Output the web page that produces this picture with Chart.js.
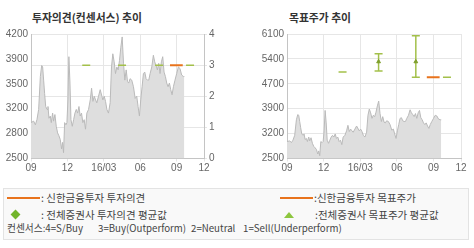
<!DOCTYPE html>
<html>
<head>
<meta charset="utf-8">
<script src="https://cdn.jsdelivr.net/npm/chart.js@4.4.1/dist/chart.umd.min.js"></script>
<style>
body{margin:0;background:#fff;width:474px;height:248px;overflow:hidden;position:relative;font-family:"Noto Sans CJK KR","Noto Sans",sans-serif;}
.title{position:absolute;top:10px;font-size:10.8px;font-weight:bold;color:#333;line-height:14px;white-space:nowrap;}
.box{position:absolute;}
#legend{position:absolute;left:3px;top:188px;width:464px;height:50px;border:1px solid #e3e3e3;background:#f9f9f9;}
.lg{position:absolute;font-size:10.5px;color:#444;line-height:12px;white-space:nowrap;}
.sm{position:absolute;font-size:9.7px;color:#444;line-height:12px;white-space:nowrap;}
.oline{position:absolute;height:2px;background:#e8731c;}
.diamond{position:absolute;width:7px;height:7px;background:#72b52b;transform:rotate(45deg);}
.tri{position:absolute;width:0;height:0;border-left:5px solid transparent;border-right:5px solid transparent;border-bottom:6px solid #8dc63f;}
</style>
</head>
<body>

<div class="title" style="left:32px">투자의견(컨센서스) 추이</div>
<div class="title" style="left:289px">목표주가 추이</div>

<div class="box" style="left:0;top:25px"><canvas id="opinion" width="237" height="150"></canvas></div>
<div class="box" style="left:237px;top:25px"><canvas id="target" width="237" height="150"></canvas></div>

<div id="legend"></div>
<div class="oline" style="left:7px;top:197px;width:33px"></div>
<div class="lg" style="left:41px;top:192px">: 신한금융투자 투자의견</div>
<div class="diamond" style="left:12px;top:211px"></div>
<div class="lg" style="left:41px;top:209px">: 전체증권사 투자의견 평균값</div>
<div class="sm" style="left:7px;top:222px">컨센서스:4=S/Buy</div>
<div class="sm" style="left:98px;top:222px">3=Buy(Outperform)</div>
<div class="sm" style="left:191px;top:222px">2=Neutral</div>
<div class="sm" style="left:243px;top:222px">1=Sell(Underperform)</div>
<div class="oline" style="left:280px;top:197px;width:33px"></div>
<div class="lg" style="left:314px;top:192px">:신한금융투자 목표주가</div>
<div class="tri" style="left:284px;top:212px"></div>
<div class="lg" style="left:315px;top:209px">:전체증권사 목표주가 평균값</div>

<script>
// x axis in months after 2015/09
const xTickPos = [0, 3, 6, 9, 12, 14.25];
const xTickLabels = ["09", "12", "16/03", "06", "09", "12"];

const priceMonth = [0,0.22,0.36,0.49,0.63,0.77,0.88,0.96,1.04,1.12,1.21,1.32,1.40,1.48,1.59,1.67,1.78,1.86,1.97,2.08,
2.19,2.30,2.41,2.52,2.60,2.68,2.77,2.88,2.96,3.04,3.12,3.21,3.29,3.40,3.51,3.62,3.73,3.84,3.95,4.05,
4.16,4.27,4.38,4.49,4.60,4.74,4.88,4.99,5.10,5.21,5.32,5.42,5.56,5.70,5.84,5.92,6.03,6.14,6.25,6.38,
6.52,6.63,6.74,6.85,6.96,7.07,7.18,7.29,7.40,7.51,7.62,7.73,7.84,7.95,8.05,8.16,8.30,8.44,8.58,8.71,
8.82,8.93,9.04,9.15,9.26,9.37,9.48,9.59,9.70,9.81,9.95,10.08,10.19,10.30,10.41,10.52,10.63,10.74,10.85,10.96,
11.07,11.18,11.29,11.40,11.51,11.62,11.73,11.86,12.00,12.14,12.27,12.41,12.55,12.63];

const price = [2990,3010,2960,3030,3170,3620,3770,3750,3570,3390,3210,3170,3210,3050,3080,2990,3120,3010,3100,2940,
2850,2810,2760,2630,2720,2580,2990,2960,2990,3300,3890,3530,3030,2940,3030,3120,3170,3120,3210,3080,
3120,2990,3030,2900,3120,3170,3300,3460,3280,3350,3300,3260,3350,3440,3350,3300,3350,3280,3170,3120,
3260,3750,3930,3820,3660,3750,3710,3840,4020,4160,3800,3570,3710,3550,3530,3590,3570,3480,3320,3350,
3210,3080,3300,3480,3660,3680,3590,3570,3570,3660,3750,3910,3820,3770,3710,3800,3660,3820,3890,3680,
3620,3530,3480,3530,3440,3370,3480,3570,3660,3750,3730,3640,3620,3620];

// consensus (all brokers)
const consMonth = [4.55, 7.5, 10.55, 13.1];
const consOpinion = [3, 3, 3, 3];
const targetAvg = [5000, 5300, 5300, 4850];
const targetMin = [5000, 5030, 4850, 4850];
const targetMax = [5000, 5530, 6050, 4850];

// 신한금융투자
const shinhanMonth = [11.45, 12.5];
const shinhanOpinion = [3, 3];
const shinhanTarget = [4850, 4850];

const opinionTicks = [0, 1, 2, 3, 4];
const priceTicksL = [2500, 2800, 3200, 3500, 3900, 4200];
const priceTicksR = [2500, 3200, 3900, 4700, 5400, 6100];

const gridColor = "#e6e6e6";
const borderColor = "#c4c4c4";
const tickFont = {family: "Liberation Sans, Arial, sans-serif", size: 10};
const green = "#a3c04a";
const orange = "#e8731c";

function pts(xs, ys){
  return xs.map((x, i) => ({x: x, y: ys[i]}));
}

function evenTicks(labels){
  return function(scale){
    let n = labels.length - 1;
    scale.ticks = labels.map((l, i) => ({value: scale.min + (scale.max - scale.min) * i / n, label: String(l)}));
  };
}

function xScale(){
  return {
    type: "linear", min: 0, max: 14.25,
    afterBuildTicks: s => { s.ticks = xTickPos.map(v => ({value: v})); },
    afterFit: s => { s.height = 16.5; },
    ticks: {autoSkip: false, maxRotation: 0, padding: 1, color: "#666", font: tickFont,
      callback: (v, i) => xTickLabels[i]},
    grid: {color: gridColor, tickLength: 3},
    border: {color: borderColor}
  };
}

function priceArea(yAxis){
  return {
    type: "line", data: pts(priceMonth, price), yAxisID: yAxis,
    borderColor: "#bababa", borderWidth: 1, backgroundColor: "#dedede",
    fill: "start", pointRadius: 0, tension: 0
  };
}

new Chart(document.getElementById("opinion"), {
  type: "line",
  data: {
    datasets: [
      {type: "line", data: pts(shinhanMonth, shinhanOpinion), yAxisID: "y1",
        borderColor: orange, borderWidth: 2, pointRadius: 0},
      {type: "scatter", data: pts(consMonth, consOpinion), yAxisID: "y1",
        pointStyle: "line", pointRadius: 4, borderColor: green, borderWidth: 1.5},
      priceArea("y")
    ]
  },
  options: {
    responsive: false, animation: false,
    layout: {padding: {top: 8, left: 0, right: 0, bottom: 0}},
    plugins: {legend: {display: false}, tooltip: {enabled: false}},
    scales: {
      x: xScale(),
      y: {
        position: "left", min: 2500, max: 4200,
        afterBuildTicks: evenTicks(priceTicksL),
        afterFit: s => { s.width = 31; },
        ticks: {padding: 3, color: "#666", font: tickFont, callback: (v, i) => String(priceTicksL[i])},
        grid: {display: false, drawTicks: false},
        border: {color: borderColor}
      },
      y1: {
        position: "right", min: 0, max: 4,
        afterBuildTicks: s => { s.ticks = opinionTicks.map(v => ({value: v})); },
        afterFit: s => { s.width = 33; },
        ticks: {padding: 2, color: "#666", font: tickFont},
        grid: {color: gridColor, tickLength: 3},
        border: {color: borderColor}
      }
    }
  }
});

// error bar segments for target price consensus
let barData = [];
consMonth.forEach((m, i) => {
  if (targetMax[i] > targetMin[i]) {
    barData.push({x: m, y: targetMin[i]}, {x: m, y: targetMax[i]}, {x: m, y: null});
  }
});
let capData = [];
consMonth.forEach((m, i) => {
  capData.push({x: m, y: targetMin[i]});
  if (targetMax[i] > targetMin[i]) capData.push({x: m, y: targetMax[i]});
});
let avgData = [];
consMonth.forEach((m, i) => {
  if (targetMax[i] > targetMin[i]) avgData.push({x: m, y: targetAvg[i]});
});

new Chart(document.getElementById("target"), {
  type: "line",
  data: {
    datasets: [
      {type: "line", data: pts(shinhanMonth, shinhanTarget),
        borderColor: orange, borderWidth: 2, pointRadius: 0},
      {type: "scatter", data: avgData, pointStyle: "triangle", pointRadius: 2.2,
        backgroundColor: "#7f9f2c", borderColor: "#7f9f2c", borderWidth: 1},
      {type: "scatter", data: capData, pointStyle: "line", pointRadius: 4,
        borderColor: green, borderWidth: 1.5},
      {type: "line", data: barData, spanGaps: false, borderColor: green, borderWidth: 1.5, pointRadius: 0},
      priceArea("y")
    ]
  },
  options: {
    responsive: false, animation: false,
    layout: {padding: {top: 8, left: 0, right: 13, bottom: 0}},
    plugins: {legend: {display: false}, tooltip: {enabled: false}},
    scales: {
      x: xScale(),
      y: {
        position: "left", min: 2500, max: 6100,
        afterBuildTicks: evenTicks(priceTicksR),
        afterFit: s => { s.width = 50; },
        ticks: {padding: 3, color: "#666", font: tickFont, callback: (v, i) => String(priceTicksR[i])},
        grid: {color: gridColor, drawTicks: false},
        border: {color: borderColor}
      }
    }
  }
});
</script>
</body>
</html>
